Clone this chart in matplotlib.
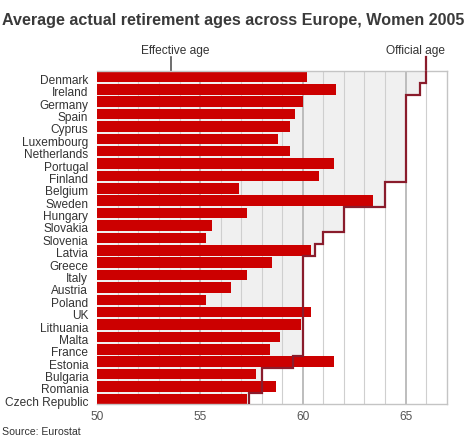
import numpy as np
import matplotlib
matplotlib.use("Agg")
import matplotlib.pyplot as plt
import matplotlib.transforms as mtransforms

plt.rcParams["font.family"] = ["Liberation Sans", "DejaVu Sans"]

countries = ["Denmark", "Ireland", "Germany", "Spain", "Cyprus", "Luxembourg",
             "Netherlands", "Portugal", "Finland", "Belgium", "Sweden", "Hungary",
             "Slovakia", "Slovenia", "Latvia", "Greece", "Italy", "Austria",
             "Poland", "UK", "Lithuania", "Malta", "France", "Estonia",
             "Bulgaria", "Romania", "Czech Republic"]

effective_age = [60.2, 61.6, 60.0, 59.6, 59.4, 58.8,
                 59.4, 61.5, 60.8, 56.9, 63.4, 57.3,
                 55.6, 55.3, 60.4, 58.5, 57.3, 56.5,
                 55.3, 60.4, 59.9, 58.9, 58.4, 61.5,
                 57.7, 58.7, 57.3]

official_age = [66, 65.7, 65, 65, 65, 65,
                65, 65, 65, 64, 64, 62,
                62, 61, 60.6, 60, 60, 60,
                60, 60, 60, 60, 60, 59.5,
                58, 58, 57.4]

x_ticks = [50, 55, 60, 65]

bar_red = "#cc0000"
line_red = "#8a1c2c"
grey_fill = "#f0f0f0"
text_col = "#333333"

fig = plt.figure(figsize=(4.65, 4.44), dpi=100)
ax = fig.add_axes([97.3 / 465, 1 - 404.3 / 444, (446.7 - 97.3) / 465, (404.3 - 70.7) / 444])

y = np.arange(len(countries))
edges = np.arange(len(countries) + 1) - 0.5

# grey area left of the official age
ax.stairs(official_age, edges, orientation="horizontal", baseline=50,
          fill=True, color=grey_fill, zorder=0)

# grid, one line per year, slightly stronger every five
for v in range(51, 67):
    if v % 5 == 0:
        ax.axvline(v, color="#b8b8b8", lw=1.3, zorder=1)
    else:
        ax.axvline(v, color="#cfcfcf", lw=0.8, zorder=1)

ax.barh(y, [e - 50 for e in effective_age], left=50, height=0.85,
        color=bar_red, zorder=2)

ax.stairs(official_age, edges, orientation="horizontal", baseline=None,
          color=line_red, lw=1.6, zorder=3)

ax.set_xlim(50, 67)
ax.set_ylim(26.44, -0.5)

ax.set_xticks(x_ticks)
ax.set_xticklabels([str(t) for t in x_ticks])
ax.set_yticks(y)
ax.set_yticklabels(countries)
ax.tick_params(axis="x", length=0, pad=5, labelsize=8.6, labelcolor="#555555")
ax.tick_params(axis="y", length=0, pad=6.5, labelsize=8.6, labelcolor=text_col)
offset = mtransforms.ScaledTranslation(0, -2.5 / 100, fig.dpi_scale_trans)
for lab in ax.get_yticklabels():
    lab.set_transform(lab.get_transform() + offset)

for side in ["top", "right", "bottom"]:
    ax.spines[side].set_color("#c4c4c4")
    ax.spines[side].set_linewidth(1)
ax.spines["left"].set_visible(False)

# pointer labels above the plot
trans = ax.get_xaxis_transform()
ax.plot([53.6, 53.6], [1.0, 1.04], color="#555555", lw=1.2, transform=trans,
        clip_on=False)
ax.text(53.8, 1.059, "Effective age", transform=trans, ha="center", va="center",
        fontsize=8.6, color=text_col)
ax.plot([official_age[0], official_age[0]], [1.0, 1.042], color=line_red, lw=1.6,
        transform=trans, clip_on=False)
ax.text(65.5, 1.059, "Official age", transform=trans, ha="center", va="center",
        fontsize=8.6, color=text_col)

fig.text(2 / 465, 1 - 20 / 444, "Average actual retirement ages across Europe, Women 2005",
         ha="left", va="center", fontsize=11.6, fontweight="bold", color="#3a3a3a")
fig.text(2 / 465, 1 - 432 / 444, "Source: Eurostat", ha="left", va="center",
         fontsize=7.6, color=text_col)

fig.savefig("out.png", dpi=100)
